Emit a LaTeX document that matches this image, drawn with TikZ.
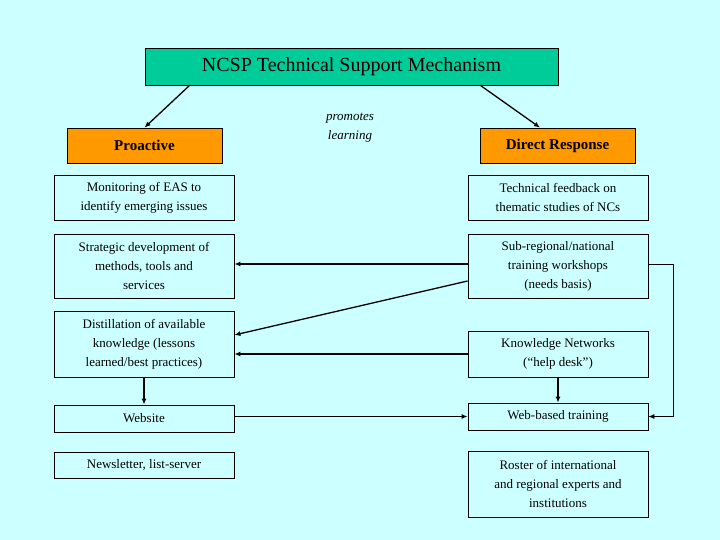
\documentclass[tikz,border=0pt]{standalone}
\usepackage{fontspec}
\setmainfont{Liberation Serif}
\usetikzlibrary{arrows.meta}
\definecolor{bgcyan}{RGB}{204,255,255}
\definecolor{titlegreen}{RGB}{0,204,153}
\definecolor{headorange}{RGB}{255,153,0}

\begin{document}
\begin{tikzpicture}[x=1pt,y=-1pt,
    box/.style={draw,thick,fill=bgcyan,inner sep=0pt,align=center,font={\fontsize{13}{19}\selectfont}},
    head/.style={draw,thick,fill=headorange,inner sep=0pt,font={\fontsize{15}{18}\selectfont\bfseries}},
    link/.style={-{Latex[length=6pt,width=5pt]},line width=1.3pt}]
    \fill[bgcyan] (0,0) rectangle (720,540);

    \node[draw,thick,fill=titlegreen,minimum width=413pt,minimum height=37pt,font={\fontsize{20}{24}\selectfont}] (title) at (351.5,66.5) {NCSP Technical Support Mechanism};
    \node[head,minimum width=155pt,minimum height=35pt] (proactive) at (144.5,145.5) {Proactive};
    \node[head,minimum width=155pt,minimum height=35pt] (direct) at (557.5,145.5) {Direct Response};
    \node[align=center,font={\fontsize{13}{19}\selectfont\itshape}] (promotes) at (350,128) {promotes\\learning};

    % left column
    \node[box,minimum width=180pt,minimum height=45pt] (monitor) at (144,197.5) {Monitoring of EAS to\\identify emerging issues};
    \node[box,minimum width=180pt,minimum height=64pt] (strategic) at (144,266) {Strategic development of\\methods, tools and\\services};
    \node[box,minimum width=180pt,minimum height=66pt] (distil) at (144,344) {Distillation of available\\knowledge (lessons\\learned/best practices)};
    \node[box,minimum width=180pt,minimum height=27pt] (website) at (144,418.5) {Website};
    \node[box,minimum width=180pt,minimum height=26pt] (news) at (144,465) {Newsletter, list-server};

    % right column
    \node[box,minimum width=180pt,minimum height=45pt] (feedback) at (558,197.5) {Technical feedback on\\thematic studies of NCs};
    \node[box,minimum width=180pt,minimum height=64pt] (workshop) at (558,266) {Sub-regional/national\\training workshops\\(needs basis)};
    \node[box,minimum width=180pt,minimum height=46pt] (network) at (558,354) {Knowledge Networks\\(“help desk”)};
    \node[box,minimum width=180pt,minimum height=27pt] (webtrain) at (558,416.5) {Web-based training};
    \node[box,minimum width=180pt,minimum height=66pt] (roster) at (558,484) {Roster of international\\and regional experts and\\institutions};

    \draw[link] (title.south west) ++(45,0) -- (proactive.north);
    \draw[link] (title.south east) ++(-78,0) -- (direct.north -| 540,0);
    \draw[link] (workshop.west |- 0,264) -- (strategic.east |- 0,264);
    \draw[link] (workshop.west |- 0,281) -- (distil.east |- 0,335);
    \draw[link] (network.west) -- (distil.east |- network.west);
    \draw[link] (distil.south) -- (website.north);
    \draw[link] (website.east |- webtrain.east) -- (webtrain.west);
    \draw[link] (network.south) -- (webtrain.north);
    \draw[thick,-{Latex[length=6pt,width=5pt]}] (workshop.east |- 0,264) -- (673,264) |- (webtrain.east);
\end{tikzpicture}
\end{document}
